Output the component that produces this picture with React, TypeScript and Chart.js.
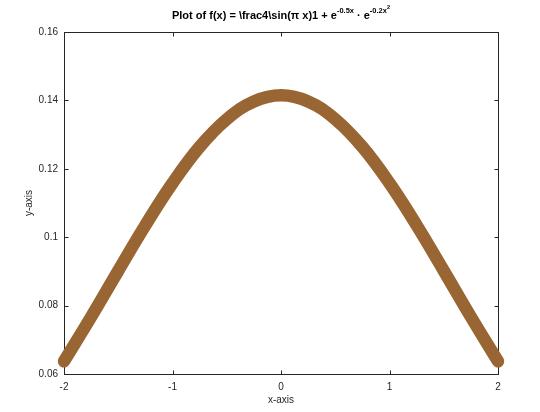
import React, { useEffect, useRef } from 'react'
import { Chart, registerables } from 'chart.js'

Chart.register(...registerables)

// values
const xValues = [-2, -1.75, -1.5, -1.25, -1, -0.75, -0.5, -0.25, 0, 0.25, 0.5, 0.75, 1, 1.25, 1.5, 1.75, 2]
const yValues = [
    0.0637, 0.0767, 0.0902, 0.1035, 0.1158, 0.1264, 0.1345, 0.1397, 0.1415,
    0.1397, 0.1345, 0.1264, 0.1158, 0.1035, 0.0902, 0.0767, 0.0637,
]

const xTicks = [-2, -1, 0, 1, 2]
const xTickLabels = ['-2', '-1', '0', '1', '2']
const yTicks = [0.06, 0.08, 0.1, 0.12, 0.14, 0.16]
const yTickLabels = ['0.06', '0.08', '0.1', '0.12', '0.14', '0.16']

const titleParts = [
    { text: 'Plot of f(x) = \\frac4\\sin(π x)1 + e', size: 11, rise: 0 },
    { text: '-0.5x', size: 7.5, rise: 6 },
    { text: ' · e', size: 11, rise: 0 },
    { text: '-0.2x', size: 7.5, rise: 6 },
    { text: '2', size: 5.5, rise: 10 },
]

const FONT = '"Liberation Sans", Arial, Helvetica, sans-serif'
const AXIS_COLOR = '#262626'

// octave-style box with inward ticks on all four sides
const axesBoxPlugin = {
    id: 'axesBox',
    beforeDatasetsDraw(chart: any) {
        const { ctx, chartArea, scales } = chart
        const { left, right, top, bottom } = chartArea
        const tick = 4
        ctx.save()
        ctx.strokeStyle = AXIS_COLOR
        ctx.lineWidth = 1
        ctx.strokeRect(left + 0.5, top + 0.5, right - left, bottom - top)
        ctx.beginPath()
        xTicks.forEach((v) => {
            const px = Math.round(scales.x.getPixelForValue(v)) + 0.5
            ctx.moveTo(px, bottom + 0.5)
            ctx.lineTo(px, bottom + 0.5 - tick)
            ctx.moveTo(px, top + 0.5)
            ctx.lineTo(px, top + 0.5 + tick)
        })
        yTicks.forEach((v) => {
            const py = Math.round(scales.y.getPixelForValue(v)) + 0.5
            ctx.moveTo(left + 0.5, py)
            ctx.lineTo(left + 0.5 + tick, py)
            ctx.moveTo(right + 0.5, py)
            ctx.lineTo(right + 0.5 - tick, py)
        })
        ctx.stroke()
        ctx.restore()
    },
}

// title with superscripts
const titlePlugin = {
    id: 'supTitle',
    afterDraw(chart: any) {
        const { ctx, chartArea } = chart
        const baseline = 19
        ctx.save()
        ctx.fillStyle = '#000'
        ctx.textBaseline = 'alphabetic'
        ctx.textAlign = 'left'
        let total = 0
        const widths = titleParts.map((p) => {
            ctx.font = `bold ${p.size}px ${FONT}`
            const w = ctx.measureText(p.text).width
            total += w
            return w
        })
        let x = (chartArea.left + chartArea.right) / 2 - total / 2
        titleParts.forEach((p, i) => {
            ctx.font = `bold ${p.size}px ${FONT}`
            ctx.fillText(p.text, x, baseline - p.rise)
            x += widths[i]
        })
        ctx.restore()
    },
}

export default function App() {
    const chartRef = useRef<HTMLCanvasElement>(null)
    const chartInstance = useRef<Chart>()

    useEffect(() => {
        if (!chartRef.current) return

        const data = xValues.map((x, i) => ({ x, y: yValues[i] }))

        if (chartInstance.current) {
            chartInstance.current.destroy()
        }

        chartInstance.current = new Chart(chartRef.current, {
            type: 'line',
            data: {
                datasets: [{
                    data,
                    borderColor: '#996633',
                    borderWidth: 12.5,
                    borderCapStyle: 'round',
                    borderJoinStyle: 'round',
                    pointRadius: 0,
                    tension: 0.4,
                    fill: false,
                    clip: false as any,
                }]
            },
            options: {
                responsive: false,
                animation: false,
                layout: { padding: { top: 32, right: 42, left: 0, bottom: 0 } },
                plugins: {
                    legend: { display: false },
                    title: { display: false },
                    tooltip: { enabled: false },
                },
                scales: {
                    x: {
                        type: 'linear',
                        min: -2,
                        max: 2,
                        grid: { display: false, drawTicks: false },
                        border: { display: false },
                        afterBuildTicks: (scale: any) => {
                            scale.ticks = xTicks.map((value) => ({ value }))
                        },
                        afterFit: (scale: any) => {
                            scale.height = 38
                        },
                        ticks: {
                            autoSkip: false,
                            maxRotation: 0,
                            padding: 7,
                            color: AXIS_COLOR,
                            font: { family: FONT, size: 10 },
                            callback: (_value, index) => xTickLabels[index],
                        },
                        title: {
                            display: true,
                            text: 'x-axis',
                            color: AXIS_COLOR,
                            font: { family: FONT, size: 10 },
                            padding: { top: 0, bottom: 6 },
                        },
                    },
                    y: {
                        type: 'linear',
                        min: 0.06,
                        max: 0.16,
                        grid: { display: false, drawTicks: false },
                        border: { display: false },
                        afterBuildTicks: (scale: any) => {
                            scale.ticks = yTicks.map((value) => ({ value }))
                        },
                        afterFit: (scale: any) => {
                            scale.width = 64
                        },
                        ticks: {
                            autoSkip: false,
                            padding: 6,
                            color: AXIS_COLOR,
                            font: { family: FONT, size: 10 },
                            callback: (_value, index) => yTickLabels[index],
                        },
                        title: {
                            display: true,
                            text: 'y-axis',
                            color: AXIS_COLOR,
                            font: { family: FONT, size: 10 },
                            padding: { top: 23, bottom: 0 },
                        },
                    },
                },
            },
            plugins: [axesBoxPlugin, titlePlugin],
        })

        return () => {
            if (chartInstance.current) {
                chartInstance.current.destroy()
            }
        }
    }, [])

    return (
        <div style={{ position: 'absolute', left: 0, top: 0, width: 540, height: 412, background: '#fff' }}>
            <canvas ref={chartRef} width={540} height={412} />
        </div>
    )
}
